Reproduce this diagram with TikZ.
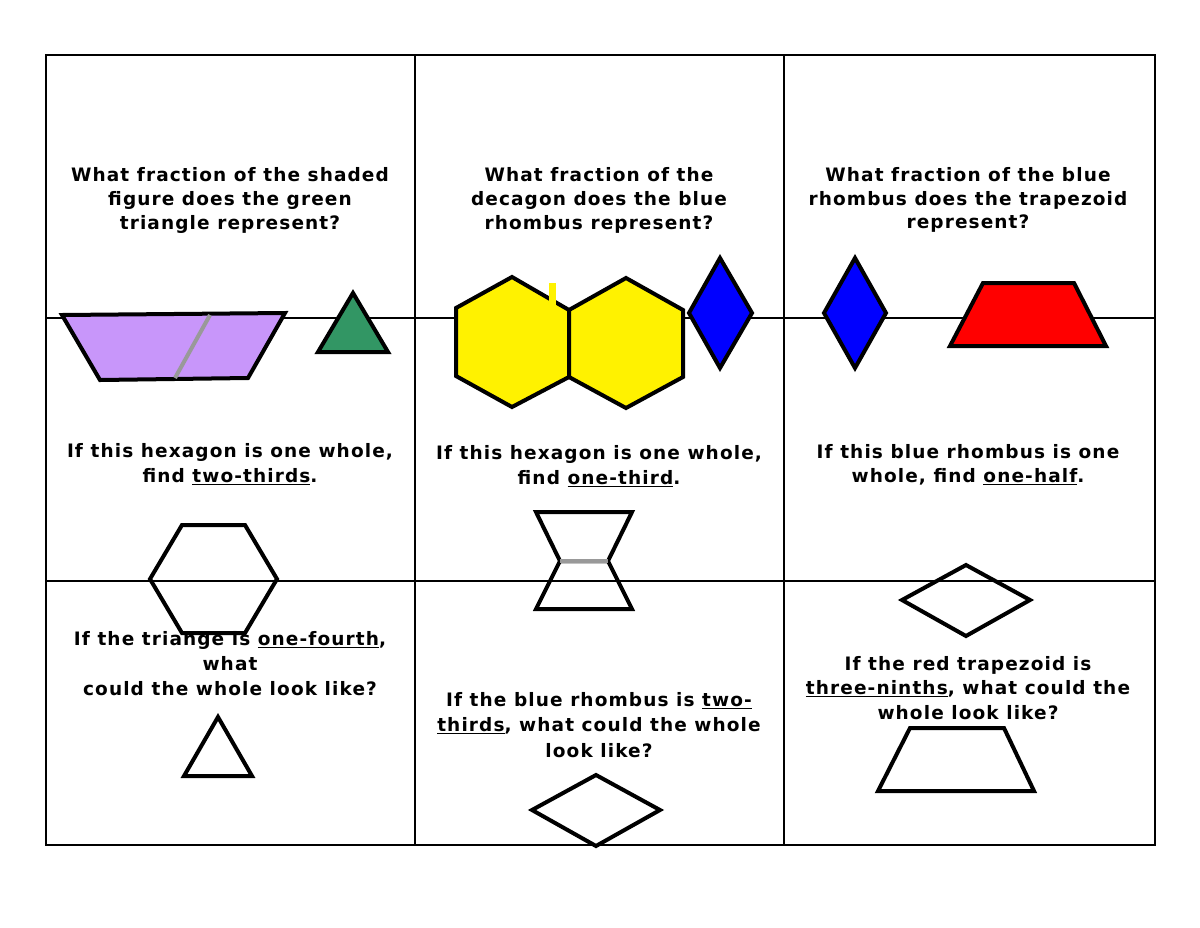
\documentclass[tikz,border=0pt]{standalone}
\usepackage{fontspec}
\setmainfont{DejaVu Sans}[LetterSpace=6]
\begin{document}
\begin{tikzpicture}[x=1pt,y=-1pt,
 shp/.style={draw=black,line width=4pt,line join=miter},
 txt/.style={font=\fontsize{18.5}{20}\selectfont\bfseries,inner sep=0pt}]
\useasboundingbox (0,0) rectangle (1200,927);
\fill[white] (0,0) rectangle (1200,927);
\draw[line width=1.2pt] (46,55) rectangle (1155,845);
\draw[line width=1.2pt] (415,55)--(415,845) (784,55)--(784,845) (46,318)--(1155,318) (46,581)--(1155,581);
% row 1
\node[txt] (t11) at (230,175) {What fraction of the shaded};
\node[txt] (t12) at (230,200) {figure does the green};
\node[txt] (t13) at (230,224) {triangle represent?};
\node[txt] (t21) at (599,175) {What fraction of the};
\node[txt] (t22) at (599,200) {decagon does the blue};
\node[txt] (t23) at (599,224) {rhombus represent?};
\node[txt] (t31) at (968,175) {What fraction of the blue};
\node[txt] (t32) at (968,200) {rhombus does the trapezoid};
\node[txt] (t33) at (968,224) {represent?};
\draw[shp,fill={rgb,255:red,200;green,150;blue,250}] (62,315)--(285,313)--(248,378)--(100,380)--cycle;
\draw[line width=4pt,gray!80] (210,315)--(175,378);
\draw[shp,fill={rgb,255:red,50;green,150;blue,100}] (318,352)--(388,352)--(353,293)--cycle;
\draw[shp,fill=yellow] (456,308)--(512,277)--(569,310)--(569,377)--(512,407)--(456,376)--cycle;
\draw[shp,fill=yellow] (569,310)--(626,278)--(683,310)--(683,377)--(626,408)--(569,377)--cycle;
\draw[line width=7pt,yellow] (552,283)--(552,306);
\draw[shp,fill=blue] (720,258)--(752,313)--(720,368)--(689,313)--cycle;
\draw[shp,fill=blue] (855,258)--(886,313)--(855,368)--(824,313)--cycle;
\draw[shp,fill=red] (950,346)--(1106,346)--(1074,283)--(983,283)--cycle;
% row 2
\node[txt] (u11) at (230,452) {If this hexagon is one whole,};
\node[txt] (u12) at (230,477) {find \underline{two-thirds}.};
\node[txt] (u21) at (599,454) {If this hexagon is one whole,};
\node[txt] (u22) at (599,479) {find \underline{one-third}.};
\node[txt] (u31) at (968,452) {If this blue rhombus is one};
\node[txt] (u32) at (968,477) {whole, find \underline{one-half}.};
\draw[shp] (150,579)--(182,525)--(245,525)--(277,579)--(245,633)--(182,633)--cycle;
\draw[shp] (536,512)--(632,512)--(608,561)--(560,561)--cycle;
\draw[shp] (560,561)--(608,561)--(632,609)--(536,609)--cycle;
\draw[line width=4pt,gray!80] (560,561)--(608,561);
\draw[shp] (966,565)--(1030,600)--(966,636)--(902,600)--cycle;
% row 3
\node[txt] (v11) at (230,640) {If the triange is \underline{one-fourth},};
\node[txt] (v12) at (230,664) {what};
\node[txt] (v13) at (230,689) {could the whole look like?};
\draw[shp] (184,776)--(252,776)--(218,717)--cycle;
\node[txt] (v21) at (599,701) {If the blue rhombus is \underline{two-}};
\node[txt] (v22) at (599,726) {\underline{thirds}, what could the whole};
\node[txt] (v23) at (599,751) {look like?};
\draw[shp] (532,810)--(596,775)--(660,810)--(596,846)--cycle;
\node[txt] (v31) at (968,665) {If the red trapezoid is};
\node[txt] (v32) at (968,689) {\underline{three-ninths}, what could the};
\node[txt] (v33) at (968,713) {whole look like?};
\draw[shp] (878,791)--(1034,791)--(1004,728)--(910,728)--cycle;
\end{tikzpicture}
\end{document}
